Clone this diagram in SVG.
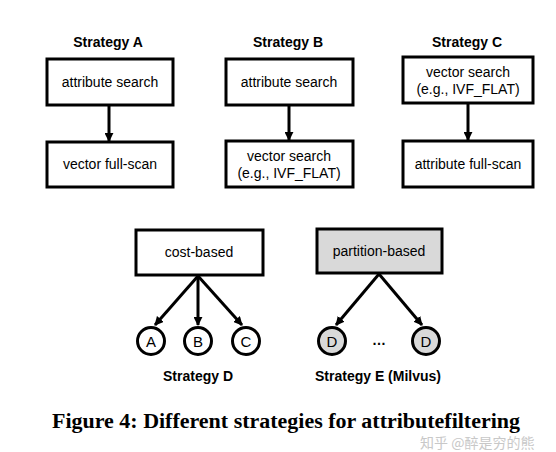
<svg xmlns="http://www.w3.org/2000/svg" width="556" height="452" viewBox="0 0 556 452">
<defs>
<marker id="ah" viewBox="0 0 10 10" refX="9" refY="5" markerWidth="3" markerHeight="3" orient="auto" markerUnits="strokeWidth">
<path d="M0,0 L10,5 L0,10 z" fill="#000"/>
</marker>
<style>
.box{fill:#fff;stroke:#000;stroke-width:3}
.gbox{fill:#d9d9d9;stroke:#000;stroke-width:3}
.lbl{font-family:"Liberation Sans",Arial,sans-serif;font-size:14px;fill:#000;text-anchor:middle}
.cl{font-family:"Liberation Sans",Arial,sans-serif;font-size:15px;fill:#000;text-anchor:middle}
.ttl{font-family:"Liberation Sans",Arial,sans-serif;font-size:14px;font-weight:bold;fill:#000;text-anchor:middle}
.edge{stroke:#000;stroke-width:3;fill:none;marker-end:url(#ah)}
.cap{font-family:"Liberation Serif","Times New Roman",serif;font-size:20px;font-weight:bold;fill:#000}
.wm{font-family:"Noto Sans CJK SC",sans-serif;font-size:14px;fill:#c8c8c8}
</style>
</defs>
<rect width="556" height="452" fill="#fff"/>

<g id="titleA"><text class="ttl" x="108" y="47">Strategy A</text></g>
<g id="titleB"><text class="ttl" x="288" y="47">Strategy B</text></g>
<g id="titleC"><text class="ttl" x="467" y="47">Strategy C</text></g>

<g id="a1"><rect class="box" x="47" y="59" width="126" height="46"/><text class="lbl" x="110" y="87">attribute search</text></g>
<g id="a2"><rect class="box" x="47" y="142" width="126" height="45"/><text class="lbl" x="110" y="169">vector full-scan</text></g>
<g id="b1"><rect class="box" x="226" y="59" width="127" height="46"/><text class="lbl" x="289" y="87">attribute search</text></g>
<g id="b2"><rect class="box" x="226" y="141" width="127" height="46"/><text class="lbl" x="289" y="161">vector search</text><text class="lbl" x="289" y="178">(e.g., IVF_FLAT)</text></g>
<g id="c1"><rect class="box" x="403" y="57" width="130" height="46"/><text class="lbl" x="468" y="77">vector search</text><text class="lbl" x="468" y="94">(e.g., IVF_FLAT)</text></g>
<g id="c2"><rect class="box" x="403" y="141" width="130" height="46"/><text class="lbl" x="468" y="169">attribute full-scan</text></g>

<g id="costbased"><rect class="box" x="136" y="230" width="127" height="45"/><text class="lbl" x="199" y="257">cost-based</text></g>
<g id="partbased"><rect class="gbox" x="317" y="229" width="125" height="44"/><text class="lbl" x="379" y="256">partition-based</text></g>

<g id="cA"><circle class="box" cx="151" cy="341" r="13.5"/><text class="cl" x="151" y="346.5">A</text></g>
<g id="cB"><circle class="box" cx="198" cy="341" r="13.5"/><text class="cl" x="198" y="346.5">B</text></g>
<g id="cC"><circle class="box" cx="246" cy="341" r="13.5"/><text class="cl" x="246" y="346.5">C</text></g>
<g id="cD1"><circle class="gbox" cx="332" cy="341" r="13.5"/><text class="cl" x="332" y="346.5">D</text></g>
<g id="cD2"><circle class="gbox" cx="426" cy="341" r="13.5"/><text class="cl" x="426" y="346.5">D</text></g>
<g id="dots"><text class="ttl" x="379" y="345">…</text></g>

<g id="titleD"><text class="ttl" x="198" y="381">Strategy D</text></g>
<g id="titleE"><text class="ttl" x="378" y="381">Strategy E (Milvus)</text></g>

<g id="connectors">
<line class="edge" x1="109" y1="105" x2="109" y2="141"/>
<line class="edge" x1="289" y1="105" x2="289" y2="140"/>
<line class="edge" x1="468" y1="103" x2="468" y2="140"/>
<line class="edge" x1="198" y1="276" x2="155" y2="325"/>
<line class="edge" x1="198" y1="276" x2="198" y2="325"/>
<line class="edge" x1="198" y1="276" x2="242" y2="325"/>
<line class="edge" x1="379" y1="274" x2="336" y2="325"/>
<line class="edge" x1="379" y1="274" x2="422" y2="325"/>
</g>

<text class="cap" x="52" y="428" textLength="468" lengthAdjust="spacingAndGlyphs">Figure 4: Different strategies for attributefiltering</text>
<text class="wm" x="420" y="448">知乎 @醉是穷的熊</text>
</svg>
